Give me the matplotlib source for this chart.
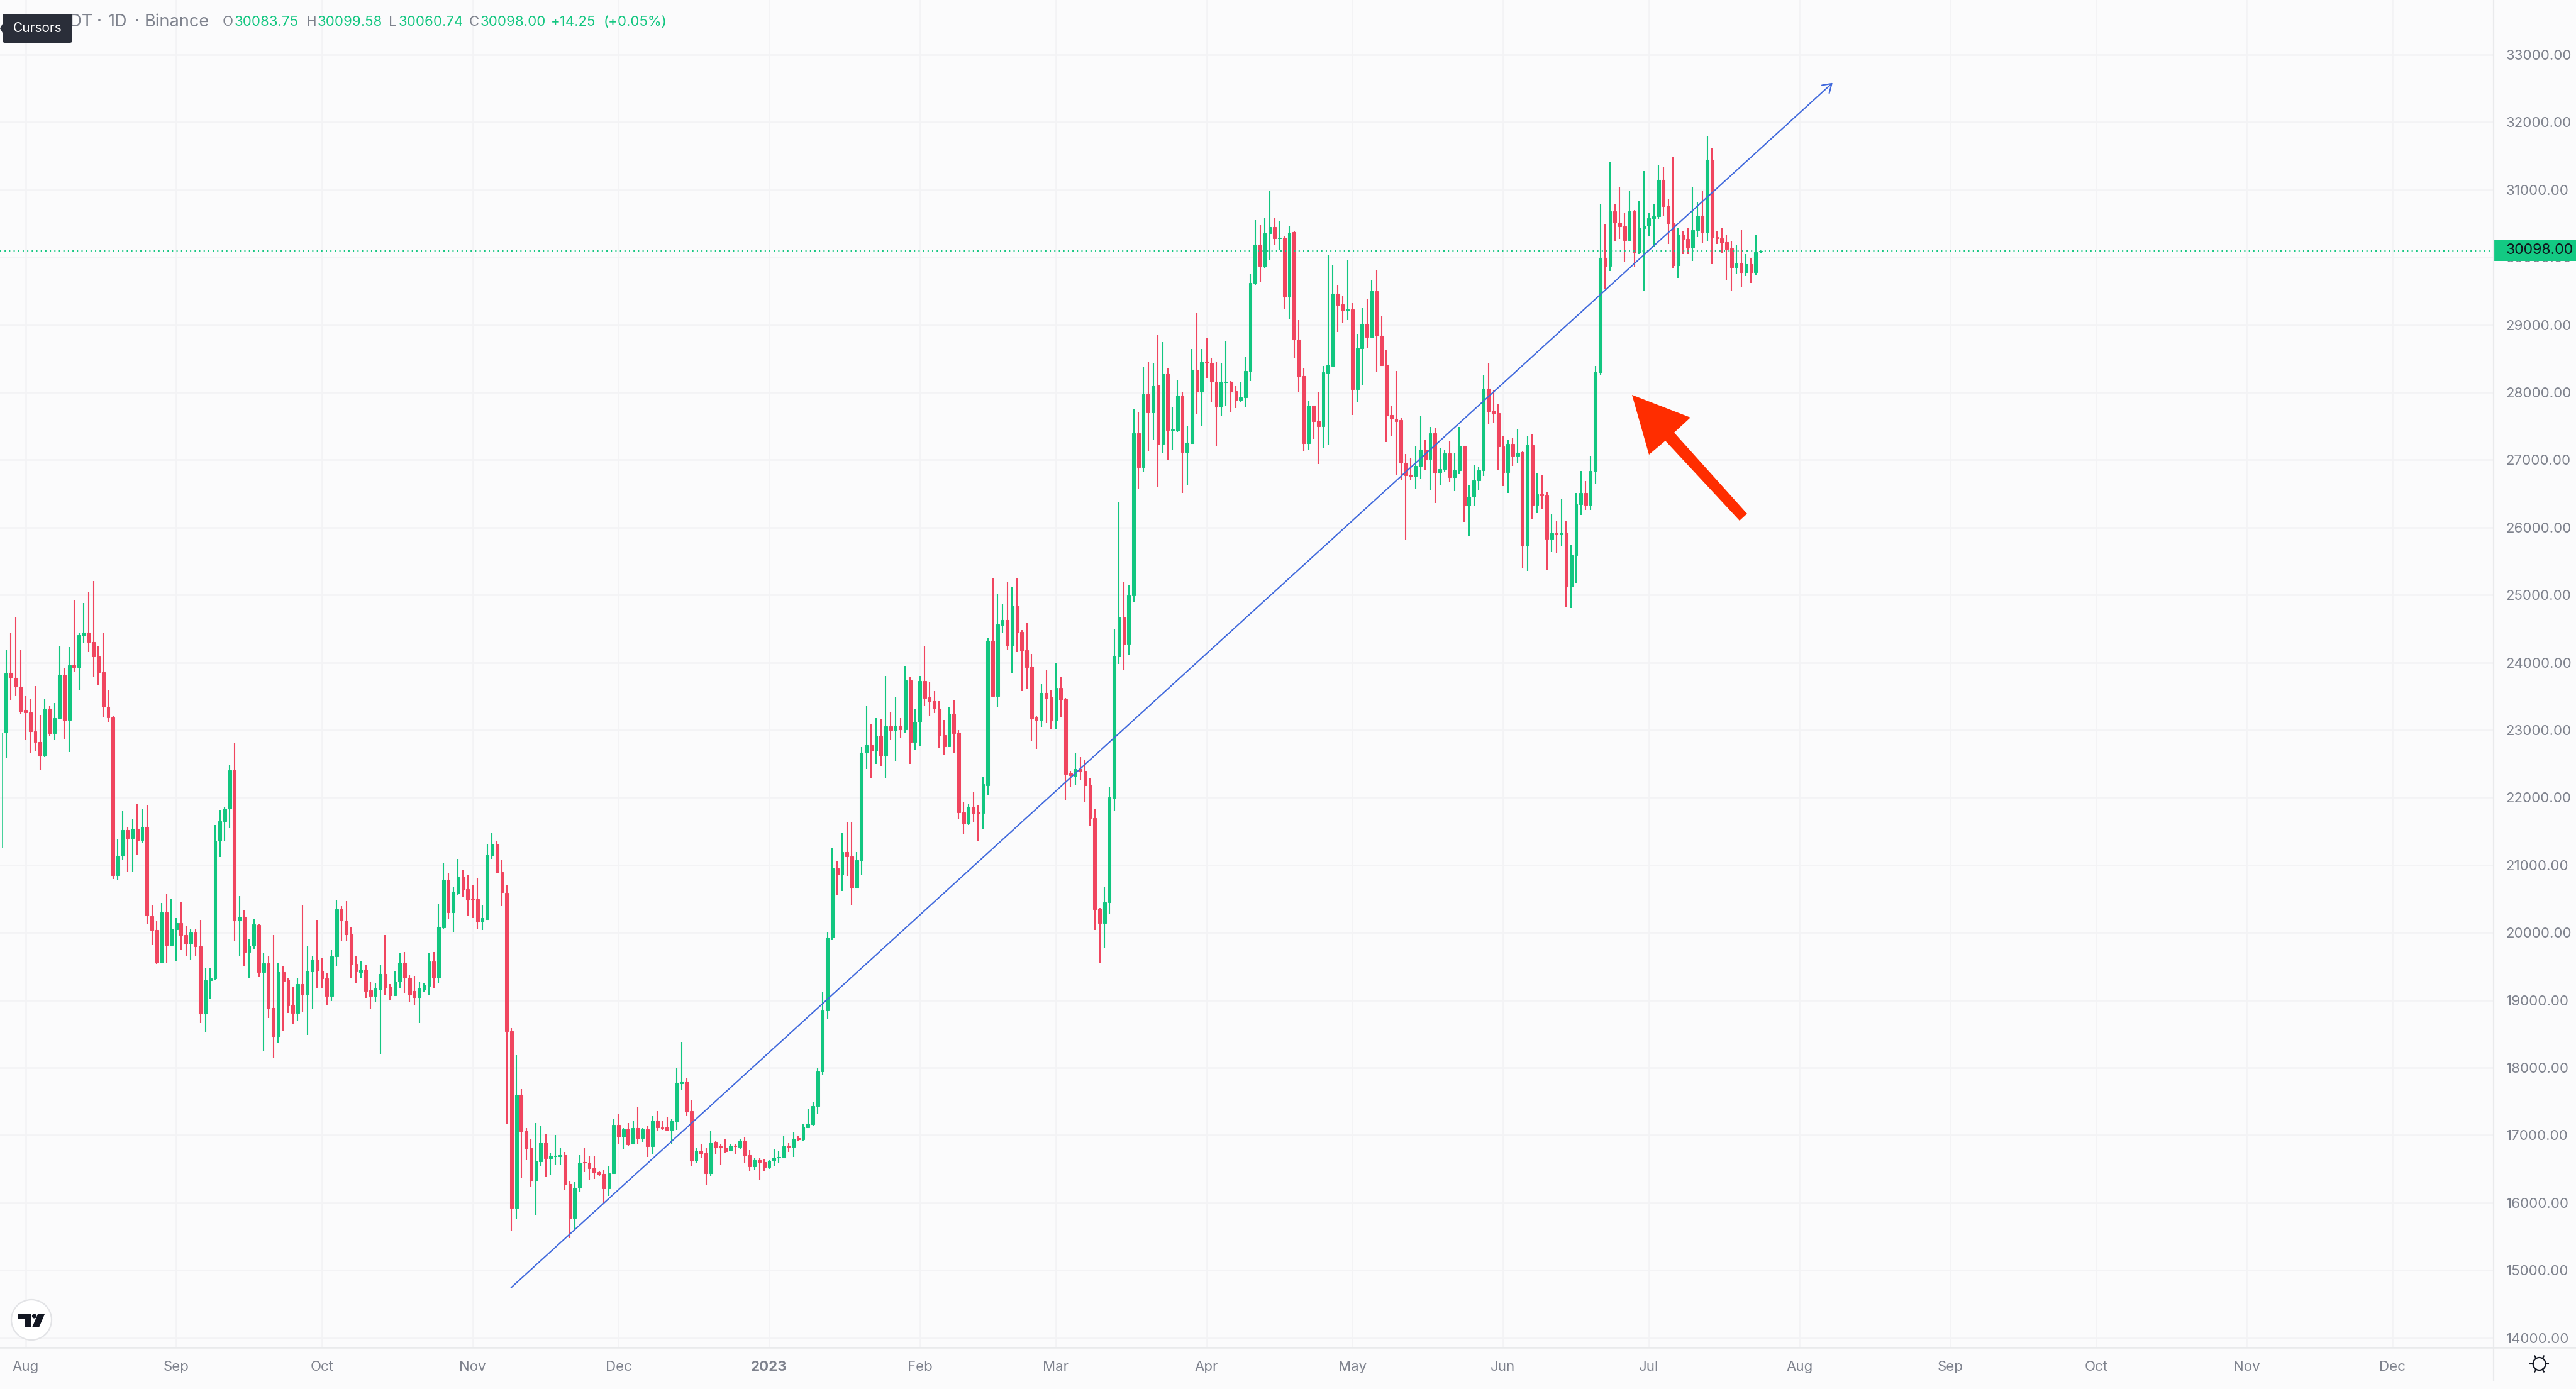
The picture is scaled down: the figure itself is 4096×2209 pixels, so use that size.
import matplotlib
matplotlib.use("Agg")
import matplotlib.pyplot as plt
from matplotlib.patches import Polygon, Rectangle, Circle, FancyBboxPatch
import numpy as np

plt.rcParams['font.family'] = ['Inter', 'DejaVu Sans']

# daily candles, first one is 4 days before 1 Aug 2022
first_day = -4
opens = [
    22960,23848,23777,23640,23298,23265,22985,22820,22620,23317,
    22952,23175,23815,23151,23957,23929,24400,24441,24308,24090,
    23853,23341,23189,20848,21137,21521,21398,21535,21369,21564,
    20241,20042,19558,20298,19814,20052,20142,19961,19833,20004,
    19800,18800,19293,19321,21364,21649,21838,22402,20179,20232,
    19710,19810,20118,19416,19549,18885,18468,19416,19302,18933,
    18810,19241,19085,19426,19601,19435,19321,19061,19644,20345,
    20175,19976,19540,19416,19454,19146,19065,19160,19388,19194,
    19075,19274,19558,19336,19132,19046,19160,19208,19577,19336,
    20080,20781,20298,20592,20819,20649,20497,20497,20165,20198,
    21146,21303,20900,20593,18544,15926,17600,17060,16807,16320,
    16612,16894,16657,16690,16690,16703,16275,15772,16225,16603,
    16599,16515,16458,16425,16208,16433,17156,16977,17089,16873,
    17102,16956,17089,16832,17222,17118,17118,17081,17197,17767,
    17796,17355,16624,16773,16736,16433,16898,16832,16815,16769,
    16848,16824,16923,16703,16541,16632,16607,16528,16620,16669,
    16669,16848,16823,16956,16936,17114,17164,17434,17941,18843,
    19924,20954,20863,21191,21129,20663,21069,22668,22781,22689,
    22914,22623,23055,22997,23063,23009,23737,22822,23117,23728,
    23487,23429,23321,22926,22756,23238,22959,21783,21609,21866,
    21783,21767,22182,24323,23504,24559,24630,24260,24838,24451,
    24181,23936,23188,23146,23550,23487,23138,23628,23458,22357,
    22324,22427,22398,22190,21700,20353,20142,20453,21991,24094,
    24663,24277,24996,27391,26889,27968,27701,28099,27238,28284,
    27441,27434,27957,27114,27249,28334,28014,28452,28441,28163,
    27783,28153,28163,28021,27886,27925,28313,29616,30192,29865,
    30352,30452,30278,30292,29416,30370,28786,28242,27249,27808,
    27583,27498,28288,28395,29462,29302,29213,29231,28050,28655,
    29018,28822,29495,28840,28413,27665,27612,27590,26953,26782,
    26765,26907,27156,27017,27398,26811,26864,27096,26740,26847,
    27210,26320,26455,26693,26847,28057,27726,27689,27202,26815,
    27239,27059,27112,25726,27218,26331,26489,26474,25829,25916,
    25897,25922,25122,25590,26340,26511,26331,26836,28302,29989,
    29875,30681,30516,30454,30253,30681,30067,30433,30464,30578,
    30603,31146,30758,30501,29884,30337,30275,30144,30399,30612,
    30371,31446,30299,30278,30222,30129,29850,29906,29782,29896,
    29782,30083.75]
highs = [
    24195,24441,24668,24185,23507,23460,23649,23222,23469,23355,
    23398,24242,23924,24227,24919,24445,24881,25047,25208,24242,
    24441,23592,23213,21383,21810,21554,21691,21905,21824,21886,
    20416,20179,20440,20582,20492,20213,20450,20094,20047,20061,
    20189,19468,19468,21597,21815,21862,22488,22805,20544,20340,
    19905,20198,20127,19701,19644,19966,19558,19502,19326,19194,
    19326,20402,19800,19658,20189,19634,19407,19739,20483,20393,
    20464,20080,19644,19573,19525,19274,19246,19525,19966,19241,
    19435,19691,19715,19369,19359,19265,19255,19701,19715,20421,
    21028,20886,20686,21094,20933,20852,20710,20805,20412,21303,
    21483,21364,21070,20705,18585,18190,17688,17110,16952,17185,
    17130,17014,16744,17006,16820,16757,16320,16308,16703,16807,
    16694,16694,16475,16487,16549,17247,17318,17106,17180,17206,
    17422,17110,17139,17288,17360,17222,17272,17243,17995,18386,
    17854,17525,16807,16860,16811,17056,16923,16860,16952,16873,
    16860,16948,16973,16778,16661,16665,16640,16632,16798,16765,
    16985,16881,17040,16985,17172,17393,17497,17991,19113,19998,
    21258,21050,21474,21644,21644,21191,22752,23367,23080,23176,
    23159,23803,23271,23491,23180,23949,23795,23313,23803,24248,
    23712,23579,23429,23146,23346,23446,23001,21933,21900,22087,
    21887,22315,24372,25245,25008,24871,25191,25112,25245,24476,
    24593,24131,23209,23678,23886,23591,23994,23791,23479,22398,
    22656,22598,22552,22282,21833,20362,20682,22149,24489,26384,
    25195,25154,27754,27711,28377,28459,28427,28857,28744,28359,
    27779,28181,28010,27505,28640,29174,28644,28811,28512,28448,
    28430,28768,28171,28092,28146,28519,29758,30548,30477,30584,
    30993,30584,30541,30306,30466,30395,29071,28359,27879,27808,
    27996,28395,30028,29879,29587,29438,29957,29324,28868,29249,
    29374,29665,29811,29124,28626,27808,28313,27622,27085,27035,
    27195,27647,27291,27487,27480,27178,27139,27270,27096,27487,
    27210,26622,26918,26889,28253,28430,28028,27825,27348,27292,
    27332,27447,27131,27354,27385,26805,26780,26526,26201,26101,
    26424,26092,25751,26511,26836,26687,27062,28392,30789,30492,
    31419,30789,31037,30665,30988,30696,30836,31276,30650,30780,
    31372,31338,30867,31487,30436,30380,30436,31037,30808,30975,
    31797,31617,30380,30436,30330,30231,30185,30411,30051,29989,
    30337,30099.58]
lows = [
    22580,23436,23507,23232,22853,22654,22687,22407,22597,22914,
    22853,23160,22867,22677,23853,23587,24298,24156,23782,23673,
    23189,23118,20796,20777,21085,20900,20900,21151,21322,20132,
    19819,19535,19550,19558,19814,19582,19739,19658,19606,19644,
    18663,18530,19027,19302,21123,21364,21549,19871,19644,19511,
    19336,19748,19350,18255,18734,18141,18373,18544,18814,18648,
    18696,18829,18483,18862,19170,19179,18933,18990,19502,19871,
    19871,19336,19250,19326,19037,18871,18980,18208,19085,18994,
    19075,19170,19108,18980,18919,18663,19122,19085,19170,19250,
    20056,20203,20009,20559,20521,20246,20213,20056,20037,20198,
    21090,20900,20393,17172,15585,15760,16362,16632,16237,15822,
    16537,16383,16416,16557,16557,16183,15477,15614,16166,16457,
    16341,16350,16400,15988,16100,16433,16860,16798,16840,16873,
    16860,16902,16674,16728,17060,17081,17064,16873,17081,17663,
    17285,16537,16583,16665,16267,16400,16723,16557,16732,16769,
    16723,16790,16590,16466,16487,16333,16474,16499,16549,16599,
    16669,16757,16674,16910,16910,17114,17139,17318,17900,18718,
    19895,20551,20613,20838,20406,20663,20861,22419,22286,22494,
    22457,22294,22847,22531,22876,22964,22494,22710,22756,23367,
    23209,23250,22743,22635,22752,22668,21684,21451,21596,21629,
    21351,21534,22045,23504,23342,24435,24185,23840,24152,23575,
    23604,22835,22718,23051,23105,23022,23022,23196,21970,22157,
    22190,22253,21929,21576,20042,19551,19767,20270,21812,23978,
    23895,24115,24892,26573,26829,27124,27295,26597,27096,26996,
    27149,27409,26509,26633,27238,27683,27505,28213,27850,27195,
    27658,27797,27708,27765,27850,27790,28171,29580,29630,29843,
    29961,30192,30110,29231,29089,28512,28010,27124,27139,27309,
    26936,27185,27231,28377,28893,29025,29067,27665,27861,28103,
    28655,28797,28299,28388,27263,27352,26775,26704,25814,26693,
    26562,26722,26847,26544,26359,26633,26829,26669,26534,26793,
    26082,25868,26327,26544,26765,27523,27549,26842,26610,26511,
    26914,26951,25395,25358,26129,26210,26278,25363,25636,25612,
    25720,24827,24806,25177,26185,26256,26256,26650,28250,29524,
    29797,30244,30268,29927,30231,29859,30045,29497,30315,30154,
    30572,30609,30200,29844,29698,30045,30051,29946,30299,30206,
    30240,29903,30200,30061,29658,29503,29757,29565,29720,29620,
    29729,30060.74]
closes = [
    23840,23777,23640,23284,23265,22985,22820,22620,23317,22952,
    23175,23815,23142,23957,23929,24403,24441,24308,24090,23853,
    23341,23189,20848,21137,21521,21398,21535,21369,21564,20250,
    20042,19558,20298,19814,20061,20142,19961,19833,20004,19800,
    18800,19298,19321,21364,21649,21838,22402,20179,20232,19710,
    19810,20127,19416,19549,18876,18468,19416,19288,18923,18810,
    19241,19085,19426,19601,19435,19321,19061,19644,20345,20175,
    19976,19540,19421,19454,19137,19065,19170,19388,19184,19075,
    19274,19558,19336,19085,19046,19170,19217,19577,19336,20089,
    20781,20298,20606,20819,20639,20488,20483,20165,20213,21146,
    21303,20900,20601,18544,15926,17600,17060,16807,16320,16620,
    16894,16657,16694,16700,16703,16275,15772,16225,16599,16590,
    16507,16445,16415,16208,16433,17156,16977,17089,16860,17102,
    16956,17089,16832,17222,17118,17098,17077,17206,17775,17796,
    17347,16624,16773,16728,16433,16890,16820,16815,16765,16848,
    16832,16923,16695,16541,16632,16607,16528,16624,16670,16674,
    16840,16823,16952,16936,17122,17172,17434,17941,18843,19924,
    20954,20863,21191,21129,20663,21071,22668,22781,22689,22914,
    22623,23055,22997,23063,23009,23737,22822,23122,23728,23479,
    23421,23313,22918,22756,23238,22955,21783,21609,21866,21775,
    21767,22199,24323,23504,24568,24630,24260,24838,24443,24173,
    23928,23171,23146,23550,23479,23138,23628,23450,22344,22332,
    22427,22390,22182,21700,20349,20142,20453,22000,24102,24663,
    24277,24996,27391,26889,27968,27701,28092,27238,28284,27441,
    27452,27957,27114,27256,28334,28014,28448,28441,28156,27783,
    28156,28163,28014,27886,27929,28313,29623,30192,29872,30359,
    30452,30281,30288,29416,30367,28779,28235,27249,27808,27576,
    27498,28295,28405,29462,29295,29210,29228,28050,28655,29018,
    28822,29495,28840,28405,27658,27612,27576,26953,26775,26765,
    26907,27156,27017,27398,26811,26864,27096,26740,26847,27210,
    26320,26455,26697,26847,28057,27719,27683,27195,26811,27238,
    27059,27106,25726,27218,26331,26489,26470,25829,25916,25897,
    25922,25122,25590,26340,26511,26331,26836,28302,29989,29875,
    30681,30516,30454,30253,30681,30067,30436,30464,30578,30603,
    31146,30758,30501,29884,30337,30268,30144,30399,30612,30371,
    31446,30299,30278,30216,30123,29850,29906,29782,29896,29782,
    30076,30098]

# half cut candle on the left edge, only its wick shows
edge_wick_day = -4.7
edge_wick_high = 22960
edge_wick_low = 21255

month_days = [0, 31, 61, 92, 122, 153, 184, 212, 243, 273, 304, 334, 365, 396, 426, 457, 487]
month_labels = ["Aug", "Sep", "Oct", "Nov", "Dec", "2023", "Feb", "Mar", "Apr", "May", "Jun", "Jul",
                "Aug", "Sep", "Oct", "Nov", "Dec"]
price_ticks = list(range(14000, 33001, 1000))

last_price = 30098.00
trend_days = [99.9, 371.8]
trend_prices = [14743, 32584]

GREEN = "#12C680"
RED = "#F0455F"
BG = "#FBFBFC"
GRID = "#F3F3F5"
RULE = "#E9EAEC"
GREY = "#7E828D"
BLUE = "#3F68DC"
W, H = 4096, 2209

fig = plt.figure(figsize=(W / 100, H / 100), dpi=100, facecolor=BG)
ax = fig.add_axes([0, (H - 2143) / H, 3965 / W, 2143 / H], facecolor=BG)
ax.set_xlim(-5.25, 507.8)
ax.set_ylim(13857, 33810)

ax.set_xticks(month_days)
ax.set_xticklabels(month_labels)
ax.set_yticks(price_ticks)
ax.set_yticklabels([f"{p:.2f}" for p in price_ticks])
ax.yaxis.tick_right()
ax.grid(True, color=GRID, lw=1.8)
ax.set_axisbelow(True)
ax.tick_params(axis="both", length=0, labelsize=16, labelcolor=GREY)
ax.tick_params(axis="x", pad=15)
ax.tick_params(axis="y", pad=14)
ax.get_xticklabels()[5].set_fontweight("bold")
for s in ax.spines.values():
    s.set_visible(False)

# candles
days = np.arange(first_day, first_day + len(opens))
o = np.array(opens)
c = np.array(closes)
cols = [GREEN if cc >= oo else RED for oo, cc in zip(o, c)]
ax.vlines(days, lows, highs, colors=cols, lw=1.5, zorder=3)
ax.bar(days, np.abs(c - o), bottom=np.minimum(o, c), width=0.62, color=cols,
       edgecolor=cols, linewidth=0.75, zorder=3)
ax.vlines([edge_wick_day], [edge_wick_low], [edge_wick_high], colors=GREEN, lw=1.1, zorder=3)

# last price line
ax.axhline(last_price, color=GREEN, lw=1.4, ls=(0, (1, 2.7)), zorder=4)

# trend line with arrow
ax.annotate("", xy=(trend_days[1], trend_prices[1]), xytext=(trend_days[0], trend_prices[0]),
            arrowprops=dict(arrowstyle="->,head_length=0.95,head_width=0.62", color=BLUE, lw=1.5,
                            shrinkA=0, shrinkB=0), zorder=5)

# overlay in picture pixels for the screen furniture
ov = fig.add_axes([0, 0, 1, 1], facecolor="none")
ov.set_xlim(0, W)
ov.set_ylim(H, 0)
ov.axis("off")

ov.plot([3965, 3965], [0, 2195], color=RULE, lw=1.6)
ov.plot([0, W], [2143, 2143], color=RULE, lw=1.8)

# price tag
ov.add_patch(Rectangle((3965, 382), 131, 33, color="#13C983", lw=0))
ov.text(3985, 398.5, "30098.00", color="#10161C", fontsize=16.5, va="center", ha="left")

# arrow drawn on the picture
ov.add_patch(Polygon([(2595, 628), (2688, 664), (2662, 688), (2778, 817), (2766, 828),
                      (2648, 701), (2622, 723)], closed=True, color="#FF2D00", lw=0))

# legend line
ov.text(19, 35, "BTCUSDT", color=GREY, fontsize=19.5, va="center", ha="left")
ov.text(172, 35, "1D", color=GREY, fontsize=19.5, va="center", ha="left")
ov.text(158, 35, "·", color=GREY, fontsize=19.5, va="center", ha="center")
ov.text(218, 35, "·", color=GREY, fontsize=19.5, va="center", ha="center")
ov.text(230, 35, "Binance", color=GREY, fontsize=19.5, va="center", ha="left")
for lx, lab, vx, val in [(354, "O", 373, "30083.75"), (487, "H", 505, "30099.58"),
                         (618, "L", 634, "30060.74"), (746, "C", 764, "30098.00")]:
    ov.text(lx, 35, lab, color=GREY, fontsize=16, va="center", ha="left")
    ov.text(vx, 35, val, color=GREEN, fontsize=16, va="center", ha="left")
ov.text(876, 35, "+14.25", color=GREEN, fontsize=16, va="center", ha="left")
ov.text(960, 35, "(+0.05%)", color=GREEN, fontsize=16, va="center", ha="left")

# tooltip
ov.add_patch(FancyBboxPatch((4, 22), 111, 46, boxstyle="round,pad=0,rounding_size=4",
                            color="#2A2E39", lw=0, zorder=6))
ov.add_patch(Polygon([(4, 38), (0, 45), (4, 52)], closed=True, color="#2A2E39", lw=0, zorder=6))
ov.text(59.5, 45, "Cursors", color="white", fontsize=15, va="center", ha="center", zorder=7)

# logo
ov.add_patch(Circle((50, 2099), 32, facecolor="white", edgecolor="#E2E3E6", lw=1.6, zorder=6))
ov.add_patch(Polygon([(29, 2090), (50, 2090), (50, 2111), (39, 2111), (39, 2097), (29, 2097)],
                     closed=True, color="#131722", lw=0, zorder=7))
ov.add_patch(Circle((54.5, 2093), 3.6, color="#131722", lw=0, zorder=7))
ov.add_patch(Polygon([(60, 2090), (71, 2090), (62, 2111), (51, 2111)], closed=True,
                     color="#131722", lw=0, zorder=7))

# gear
ov.add_patch(Circle((4037.7, 2169), 10, facecolor="none", edgecolor="#131722", lw=1.6))
for a in np.deg2rad(np.arange(0, 360, 60) + 30):
    ov.plot([4037.7 + 10 * np.sin(a), 4037.7 + 14.5 * np.sin(a)],
            [2169 + 10 * np.cos(a), 2169 + 14.5 * np.cos(a)], color="#131722", lw=1.5)

fig.savefig("out.png", dpi=100, facecolor=BG)
